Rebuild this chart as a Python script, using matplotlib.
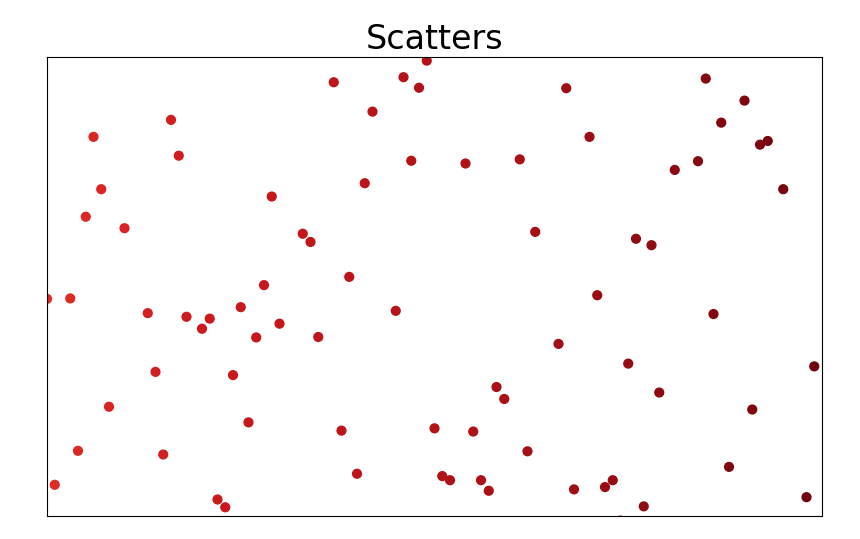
import numpy as np
import matplotlib
matplotlib.use('Agg')
import matplotlib.pyplot as plt

# point positions (index along x, value along y), only the ones inside the view
x = [0, 1, 3, 4, 5, 6, 7, 8, 10, 13, 14, 15, 16, 17, 18, 20, 21, 22, 23, 24,
     25, 26, 27, 28, 29, 30, 33, 34, 35, 37, 38, 39, 40, 41, 42, 45, 46, 47, 48, 49,
     50, 51, 52, 54, 55, 56, 57, 58, 59, 61, 62, 63, 66, 67, 68, 70, 71, 72, 73, 74,
     75, 76, 77, 78, 79, 81, 84, 85, 86, 87, 88, 90, 91, 92, 93, 95, 98, 99]
y = [0.473, 0.068, 0.474, 0.142, 0.652, 0.826, 0.712, 0.238, 0.627, 0.442,
     0.314, 0.134, 0.863, 0.785, 0.434, 0.408, 0.430, 0.036, 0.019, 0.307,
     0.455, 0.204, 0.389, 0.503, 0.696, 0.419, 0.615, 0.597, 0.390, 0.945,
     0.186, 0.521, 0.092, 0.725, 0.881, 0.447, 0.956, 0.774, 0.933, 0.992,
     0.191, 0.087, 0.078, 0.768, 0.184, 0.078, 0.055, 0.281, 0.255, 0.777,
     0.141, 0.619, 0.375, 0.932, 0.058, 0.826, 0.481, 0.063, 0.078, -0.010,
     0.332, 0.604, 0.021, 0.590, 0.269, 0.754, 0.773, 0.953, 0.440, 0.857,
     0.107, 0.905, 0.232, 0.809, 0.817, 0.712, 0.041, 0.326]

x = np.array(x)
y = np.array(y)

# colour follows x, using the darker part of the Reds map
colors = plt.cm.Reds(0.68 + 0.30 * x / 99)

fig = plt.figure(figsize=(8.6, 5.39), dpi=100)
ax = fig.add_axes([47 / 860, 23 / 539, 775 / 860, 459 / 539])
ax.scatter(x, y, c=colors, s=40)
ax.set_xlim(0, 100)
ax.set_ylim(0, 1)
ax.set_xticks([])
ax.set_yticks([])
ax.set_title('Scatters', fontsize=24)

plt.savefig('out.png', dpi=100)
